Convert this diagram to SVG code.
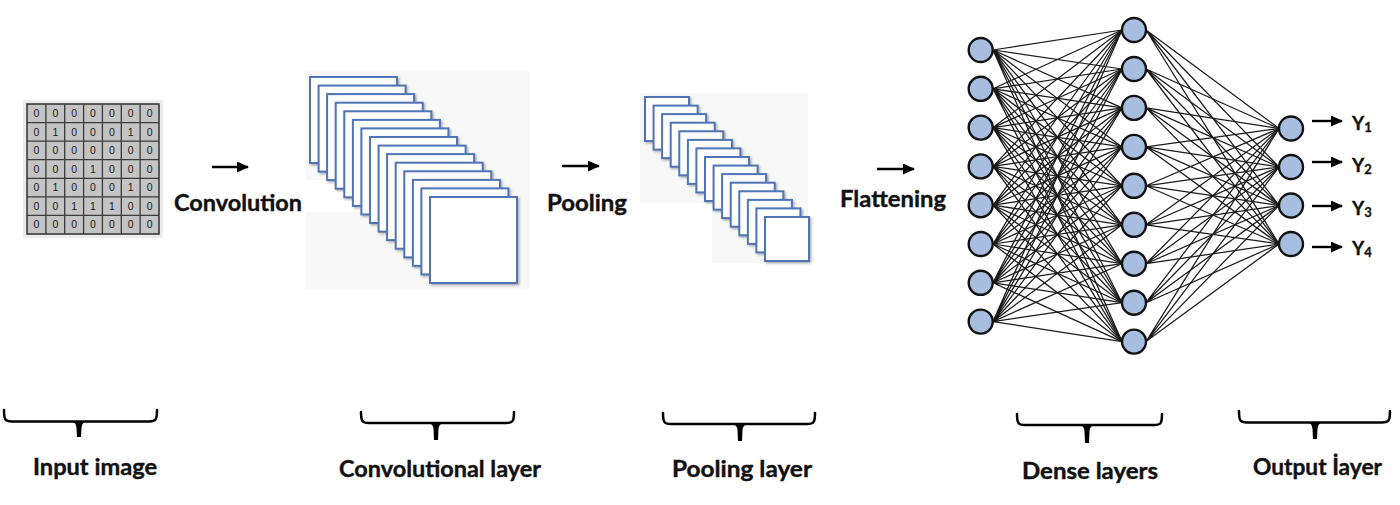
<svg xmlns="http://www.w3.org/2000/svg" xmlns:xlink="http://www.w3.org/1999/xlink" width="1400" height="505" viewBox="0 0 1400 505">
<style>
.lbl{font-family:Lato,"Liberation Sans",sans-serif;font-weight:bold;font-size:23px;fill:#111;stroke:#111;stroke-width:0.4;text-anchor:middle}
.dig{font-family:"Liberation Sans",Arial,sans-serif;font-size:10.5px;fill:#1a1a1a;text-anchor:middle}
.yl{font-family:Lato,"Liberation Sans",sans-serif;font-weight:bold;font-size:19px;fill:#111;stroke:#111;stroke-width:0.3}
.ys{font-size:13px}
.sq{fill:#fff;stroke:#4f75b6;stroke-width:2;filter:url(#sh)}
.nd{fill:#a8bee0;stroke:#111;stroke-width:2.4}
.ed{fill:none;stroke:#1a1a1a;stroke-width:1.25}
.ar{fill:none;stroke:#000;stroke-width:2.4;marker-end:url(#ah)}
.br{fill:none;stroke:#000;stroke-width:2.5;stroke-linecap:round}
.st{fill:#000}
.panel{fill:#f8f8f8}
</style>
<defs>
<filter id="sh" x="-10%" y="-10%" width="130%" height="130%">
<feDropShadow dx="1.5" dy="1.5" stdDeviation="0.8" flood-color="#555" flood-opacity="0.45"/>
</filter>
<marker id="ah" viewBox="0 0 12 11" refX="11" refY="5.5" markerWidth="12" markerHeight="11" markerUnits="userSpaceOnUse" orient="auto">
<path d="M0,0 L12,5.5 L0,11 Z" fill="#000"/>
</marker>
<rect id="csq" width="87" height="86"/>
<rect id="psq" width="44" height="44"/>
</defs>
<rect width="1400" height="505" fill="#fff"/>

<!-- faint photo panels -->
<rect class="panel" x="306" y="71" width="224" height="218"/>
<rect x="296" y="180" width="99" height="32" fill="#fff"/>
<polygon class="panel" points="640,93 808,93 808,263 712,263 712,203 640,203"/>

<!-- Input image -->
<g id="input-image">
<rect x="23" y="100" width="140" height="138" fill="#ececec"/>
<rect x="27" y="104" width="132" height="130" fill="#c4c4c4" stroke="#3a3a3a" stroke-width="1.6"/>
<path d="M45.9,104V234M64.7,104V234M83.6,104V234M102.4,104V234M121.3,104V234M140.1,104V234M27,122.6H159M27,141.1H159M27,159.7H159M27,178.3H159M27,196.9H159M27,215.4H159" stroke="#3a3a3a" stroke-width="1.3" fill="none"/>
<text class="dig" x="36.4 55.3 74.1 93 111.9 130.7 149.6" y="117">0000000</text>
<text class="dig" x="36.4 55.3 74.1 93 111.9 130.7 149.6" y="135.6">0100010</text>
<text class="dig" x="36.4 55.3 74.1 93 111.9 130.7 149.6" y="154.1">0000000</text>
<text class="dig" x="36.4 55.3 74.1 93 111.9 130.7 149.6" y="172.7">0001000</text>
<text class="dig" x="36.4 55.3 74.1 93 111.9 130.7 149.6" y="191.3">0100010</text>
<text class="dig" x="36.4 55.3 74.1 93 111.9 130.7 149.6" y="209.8">0011100</text>
<text class="dig" x="36.4 55.3 74.1 93 111.9 130.7 149.6" y="228.4">0000000</text>
</g>

<!-- Convolutional layer stack -->
<g id="conv-layer">
<use xlink:href="#csq" class="sq" x="310" y="77"/>
<use xlink:href="#csq" class="sq" x="318.6" y="85.6"/>
<use xlink:href="#csq" class="sq" x="327.1" y="94.1"/>
<use xlink:href="#csq" class="sq" x="335.7" y="102.7"/>
<use xlink:href="#csq" class="sq" x="344.3" y="111.3"/>
<use xlink:href="#csq" class="sq" x="352.9" y="119.9"/>
<use xlink:href="#csq" class="sq" x="361.4" y="128.4"/>
<use xlink:href="#csq" class="sq" x="370" y="137"/>
<use xlink:href="#csq" class="sq" x="378.6" y="145.6"/>
<use xlink:href="#csq" class="sq" x="387.1" y="154.1"/>
<use xlink:href="#csq" class="sq" x="395.7" y="162.7"/>
<use xlink:href="#csq" class="sq" x="404.3" y="171.3"/>
<use xlink:href="#csq" class="sq" x="412.9" y="179.9"/>
<use xlink:href="#csq" class="sq" x="421.4" y="188.4"/>
<use xlink:href="#csq" class="sq" x="430" y="197"/>
</g>

<!-- Pooling layer stack -->
<g id="pool-layer">
<use xlink:href="#psq" class="sq" x="645" y="97"/>
<use xlink:href="#psq" class="sq" x="653.6" y="105.6"/>
<use xlink:href="#psq" class="sq" x="662.1" y="114.1"/>
<use xlink:href="#psq" class="sq" x="670.7" y="122.7"/>
<use xlink:href="#psq" class="sq" x="679.3" y="131.3"/>
<use xlink:href="#psq" class="sq" x="687.9" y="139.9"/>
<use xlink:href="#psq" class="sq" x="696.4" y="148.4"/>
<use xlink:href="#psq" class="sq" x="705" y="157"/>
<use xlink:href="#psq" class="sq" x="713.6" y="165.6"/>
<use xlink:href="#psq" class="sq" x="722.1" y="174.1"/>
<use xlink:href="#psq" class="sq" x="730.7" y="182.7"/>
<use xlink:href="#psq" class="sq" x="739.3" y="191.3"/>
<use xlink:href="#psq" class="sq" x="747.9" y="199.9"/>
<use xlink:href="#psq" class="sq" x="756.4" y="208.4"/>
<use xlink:href="#psq" class="sq" x="765" y="217"/>
</g>

<!-- Connectors -->
<g id="connectors">
<line class="ar" x1="212" y1="167" x2="248" y2="167"/>
<line class="ar" x1="562" y1="166" x2="599" y2="166"/>
<line class="ar" x1="877" y1="169" x2="914" y2="169"/>
<g id="edges-dense1">
<path class="ed" d="M993,50L1122,30M993,50L1122,69M993,50L1122,107.9M993,50L1122,146.9M993,50L1122,185.8M993,50L1122,224.8M993,50L1122,263.7M993,50L1122,302.7M993,50L1122,341.6"/>
<path class="ed" d="M993,88.8L1122,30M993,88.8L1122,69M993,88.8L1122,107.9M993,88.8L1122,146.9M993,88.8L1122,185.8M993,88.8L1122,224.8M993,88.8L1122,263.7M993,88.8L1122,302.7M993,88.8L1122,341.6"/>
<path class="ed" d="M993,127.6L1122,30M993,127.6L1122,69M993,127.6L1122,107.9M993,127.6L1122,146.9M993,127.6L1122,185.8M993,127.6L1122,224.8M993,127.6L1122,263.7M993,127.6L1122,302.7M993,127.6L1122,341.6"/>
<path class="ed" d="M993,166.4L1122,30M993,166.4L1122,69M993,166.4L1122,107.9M993,166.4L1122,146.9M993,166.4L1122,185.8M993,166.4L1122,224.8M993,166.4L1122,263.7M993,166.4L1122,302.7M993,166.4L1122,341.6"/>
<path class="ed" d="M993,205.2L1122,30M993,205.2L1122,69M993,205.2L1122,107.9M993,205.2L1122,146.9M993,205.2L1122,185.8M993,205.2L1122,224.8M993,205.2L1122,263.7M993,205.2L1122,302.7M993,205.2L1122,341.6"/>
<path class="ed" d="M993,244L1122,30M993,244L1122,69M993,244L1122,107.9M993,244L1122,146.9M993,244L1122,185.8M993,244L1122,224.8M993,244L1122,263.7M993,244L1122,302.7M993,244L1122,341.6"/>
<path class="ed" d="M993,282.8L1122,30M993,282.8L1122,69M993,282.8L1122,107.9M993,282.8L1122,146.9M993,282.8L1122,185.8M993,282.8L1122,224.8M993,282.8L1122,263.7M993,282.8L1122,302.7M993,282.8L1122,341.6"/>
<path class="ed" d="M993,321.6L1122,30M993,321.6L1122,69M993,321.6L1122,107.9M993,321.6L1122,146.9M993,321.6L1122,185.8M993,321.6L1122,224.8M993,321.6L1122,263.7M993,321.6L1122,302.7M993,321.6L1122,341.6"/>
</g>
<g id="edges-dense2">
<path class="ed" d="M1146,30L1279,128.5M1146,30L1279,167M1146,30L1279,205.5M1146,30L1279,244"/>
<path class="ed" d="M1146,69L1279,128.5M1146,69L1279,167M1146,69L1279,205.5M1146,69L1279,244"/>
<path class="ed" d="M1146,107.9L1279,128.5M1146,107.9L1279,167M1146,107.9L1279,205.5M1146,107.9L1279,244"/>
<path class="ed" d="M1146,146.9L1279,128.5M1146,146.9L1279,167M1146,146.9L1279,205.5M1146,146.9L1279,244"/>
<path class="ed" d="M1146,185.8L1279,128.5M1146,185.8L1279,167M1146,185.8L1279,205.5M1146,185.8L1279,244"/>
<path class="ed" d="M1146,224.8L1279,128.5M1146,224.8L1279,167M1146,224.8L1279,205.5M1146,224.8L1279,244"/>
<path class="ed" d="M1146,263.7L1279,128.5M1146,263.7L1279,167M1146,263.7L1279,205.5M1146,263.7L1279,244"/>
<path class="ed" d="M1146,302.7L1279,128.5M1146,302.7L1279,167M1146,302.7L1279,205.5M1146,302.7L1279,244"/>
<path class="ed" d="M1146,341.6L1279,128.5M1146,341.6L1279,167M1146,341.6L1279,205.5M1146,341.6L1279,244"/>
</g>
<line class="ar" x1="1312" y1="121" x2="1342" y2="121"/>
<line class="ar" x1="1312" y1="162" x2="1342" y2="162"/>
<line class="ar" x1="1312" y1="206" x2="1342" y2="206"/>
<line class="ar" x1="1312" y1="247" x2="1342" y2="247"/>
</g>

<!-- Dense layer 1 nodes -->
<g id="d1-n1"><circle class="nd" cx="980.7" cy="50" r="12"/></g>
<g id="d1-n2"><circle class="nd" cx="980.7" cy="88.8" r="12"/></g>
<g id="d1-n3"><circle class="nd" cx="980.7" cy="127.6" r="12"/></g>
<g id="d1-n4"><circle class="nd" cx="980.7" cy="166.4" r="12"/></g>
<g id="d1-n5"><circle class="nd" cx="980.7" cy="205.2" r="12"/></g>
<g id="d1-n6"><circle class="nd" cx="980.7" cy="244" r="12"/></g>
<g id="d1-n7"><circle class="nd" cx="980.7" cy="282.8" r="12"/></g>
<g id="d1-n8"><circle class="nd" cx="980.7" cy="321.6" r="12"/></g>
<!-- Dense layer 2 nodes -->
<g id="d2-n1"><circle class="nd" cx="1134" cy="30" r="12"/></g>
<g id="d2-n2"><circle class="nd" cx="1134" cy="69" r="12"/></g>
<g id="d2-n3"><circle class="nd" cx="1134" cy="107.9" r="12"/></g>
<g id="d2-n4"><circle class="nd" cx="1134" cy="146.9" r="12"/></g>
<g id="d2-n5"><circle class="nd" cx="1134" cy="185.8" r="12"/></g>
<g id="d2-n6"><circle class="nd" cx="1134" cy="224.8" r="12"/></g>
<g id="d2-n7"><circle class="nd" cx="1134" cy="263.7" r="12"/></g>
<g id="d2-n8"><circle class="nd" cx="1134" cy="302.7" r="12"/></g>
<g id="d2-n9"><circle class="nd" cx="1134" cy="341.6" r="12"/></g>
<!-- Output nodes -->
<g id="out-n1"><circle class="nd" cx="1291" cy="128.5" r="12"/></g>
<g id="out-n2"><circle class="nd" cx="1291" cy="167" r="12"/></g>
<g id="out-n3"><circle class="nd" cx="1291" cy="205.5" r="12"/></g>
<g id="out-n4"><circle class="nd" cx="1291" cy="244" r="12"/></g>

<!-- Output labels -->
<g id="y-labels">
<text class="yl" x="1352" y="130">Y<tspan class="ys" dy="2">1</tspan></text>
<text class="yl" x="1352" y="172">Y<tspan class="ys" dy="2">2</tspan></text>
<text class="yl" x="1352" y="215">Y<tspan class="ys" dy="2">3</tspan></text>
<text class="yl" x="1352" y="255">Y<tspan class="ys" dy="2">4</tspan></text>
</g>

<!-- Step labels -->
<text class="lbl" x="238" y="211" textLength="128" lengthAdjust="spacingAndGlyphs">Convolution</text>
<text class="lbl" x="587" y="211" textLength="80" lengthAdjust="spacingAndGlyphs">Pooling</text>
<text class="lbl" x="893" y="207" textLength="106" lengthAdjust="spacingAndGlyphs">Flattening</text>

<!-- Brackets -->
<g id="bracket-input">
<path class="br" d="M4,410 C4,419.5 5,421.5 12,421.5 H149 C156,421.5 157,419.5 157,410"/>
<path class="st" d="M70,421 Q76.5,422 76.5,428 L77,437 L81,437 L81.5,428 Q81.5,422 88,421 Z"/>
<text class="lbl" x="95" y="475" textLength="124" lengthAdjust="spacingAndGlyphs">Input image</text>
</g>
<g id="bracket-conv">
<path class="br" d="M361,412 C361,421 362,423 369,423 H506 C513,423 514,421 514,412"/>
<path class="st" d="M427,422.5 Q433.5,423.5 433.5,429.5 L434,440 L438,440 L438.5,429.5 Q438.5,423.5 445,422.5 Z"/>
<text class="lbl" x="440" y="477" textLength="202" lengthAdjust="spacingAndGlyphs">Convolutional layer</text>
</g>
<g id="bracket-pool">
<path class="br" d="M663,413 C663,422 664,424 671,424 H807 C814,424 815,422 815,413"/>
<path class="st" d="M731,423.5 Q737.5,424.5 737.5,430.5 L738,441 L742,441 L742.5,430.5 Q742.5,424.5 749,423.5 Z"/>
<text class="lbl" x="742" y="477" textLength="140" lengthAdjust="spacingAndGlyphs">Pooling layer</text>
</g>
<g id="bracket-dense">
<path class="br" d="M1017,414 C1017,423 1018,425 1025,425 H1154 C1161,425 1162,423 1162,414"/>
<path class="st" d="M1078,424.5 Q1084.5,425.5 1084.5,431.5 L1085,443 L1089,443 L1089.5,431.5 Q1089.5,425.5 1096,424.5 Z"/>
<text class="lbl" x="1090" y="479" textLength="136" lengthAdjust="spacingAndGlyphs">Dense layers</text>
</g>
<g id="bracket-output">
<path class="br" d="M1239,411 C1239,420.5 1240,422.5 1247,422.5 H1382 C1389,422.5 1390,420.5 1390,411"/>
<path class="st" d="M1306,422 Q1312.5,423 1312.5,429 L1313,439 L1317,439 L1317.5,429 Q1317.5,423 1324,422 Z"/>
<text class="lbl" x="1317.5" y="475" textLength="129" lengthAdjust="spacingAndGlyphs">Output İayer</text>
</g>
</svg>
